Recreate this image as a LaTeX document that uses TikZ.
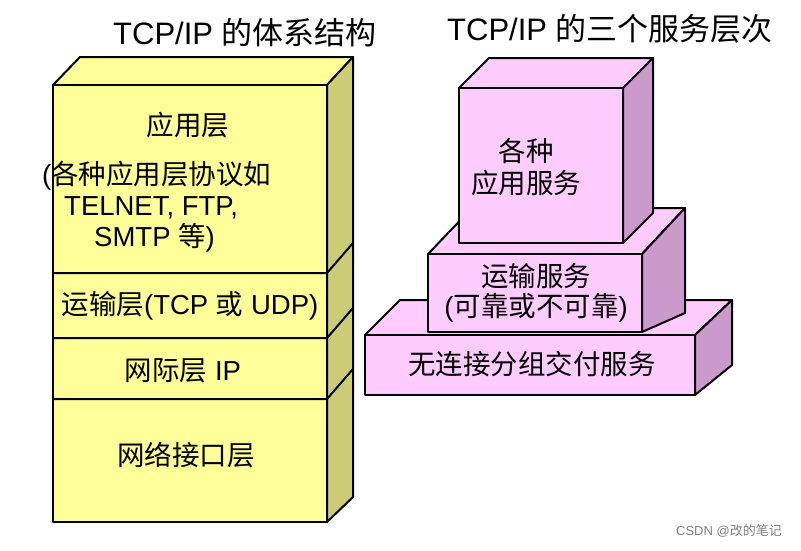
\documentclass[tikz,border=0pt]{standalone}
\usepackage{fontspec}
\setmainfont{Liberation Sans}
\newfontfamily\cjk{Noto Sans CJK SC}
\begin{document}
\begin{tikzpicture}[x=1pt,y=-1pt,
  edge/.style={draw=black,line width=2pt,line join=round},
  yside/.style={edge,fill=yside},
  pside/.style={edge,fill=pside},
  lbl/.style={font=\fontsize{27.5}{33}\selectfont,align=center,inner sep=0pt},
  ttl/.style={font=\fontsize{31}{34}\selectfont,inner sep=0pt}]
\definecolor{yfront}{HTML}{FFFF99}
\definecolor{yside}{HTML}{CCCC77}
\definecolor{pfront}{HTML}{FFCCFF}
\definecolor{pside}{HTML}{CC99CC}
\useasboundingbox (0,0) rectangle (801,550);
% left stack
\path[edge,fill=yfront] (53,85) -- (80,57) -- (353,57) -- (327,85) -- cycle;
\path[yside] (327,85) -- (353,57) -- (353,497) -- (327,522) -- cycle;
\path[edge,fill=yfront] (53,85) rectangle (327,522);
\foreach \yy in {273,338,399}{
  \draw[edge] (53,\yy) -- (327,\yy) -- (353,\yy-30);}
% right: bottom slab
\path[edge,fill=pfront] (365,335) -- (400,300) -- (732,300) -- (695,335) -- cycle;
\path[pside] (695,335) -- (732,300) -- (732,365) -- (695,395) -- cycle;
\path[edge,fill=pfront] (365,335) rectangle (695,395);
% middle slab
\path[edge,fill=pfront] (428,254) -- (472,208) -- (685,208) -- (642,254) -- cycle;
\path[pside] (642,254) -- (685,208) -- (685,313) -- (642,332) -- cycle;
\path[edge,fill=pfront] (428,254) rectangle (642,332);
% top box
\path[edge,fill=pfront] (459,88) -- (489,58) -- (653,58) -- (623,88) -- cycle;
\path[pside] (623,88) -- (653,58) -- (653,213) -- (623,243) -- cycle;
\path[edge,fill=pfront] (459,88) rectangle (623,243);
% texts
\node[ttl] (t1) at (245,33) {TCP/IP {\cjk 的体系结构}};
\node[ttl] (t2) at (610,29) {TCP/IP {\cjk 的三个服务层次}};
\node[lbl] (app) at (188,125) {\cjk 应用层};
\node[lbl,align=left,anchor=north west] (appd) at (42,161) {({\cjk 各种应用层协议如}\\[-2pt]\hspace*{22pt}TELNET, FTP,\\[-2pt]\hspace*{52pt}SMTP {\cjk 等})};
\node[lbl] (tr) at (190,306) {{\cjk 运输层}(TCP {\cjk 或} UDP)};
\node[lbl] (ip) at (183,371) {{\cjk 网际层} IP};
\node[lbl] (ni) at (186,455) {\cjk 网络接口层};
\node[lbl] (as) at (526,167) {\cjk 各种\\[-1pt]\cjk 应用服务};
\node[lbl] (ts) at (536,293) {\cjk 运输服务\\[-3pt]({\cjk 可靠或不可靠})};
\node[lbl] (cs) at (532,364) {\cjk 无连接分组交付服务};
\node[font=\fontsize{13}{15}\selectfont\color{gray},anchor=east,inner sep=0pt] (wm) at (782,531) {CSDN @{\cjk 改的笔记}};
\end{tikzpicture}
\end{document}
